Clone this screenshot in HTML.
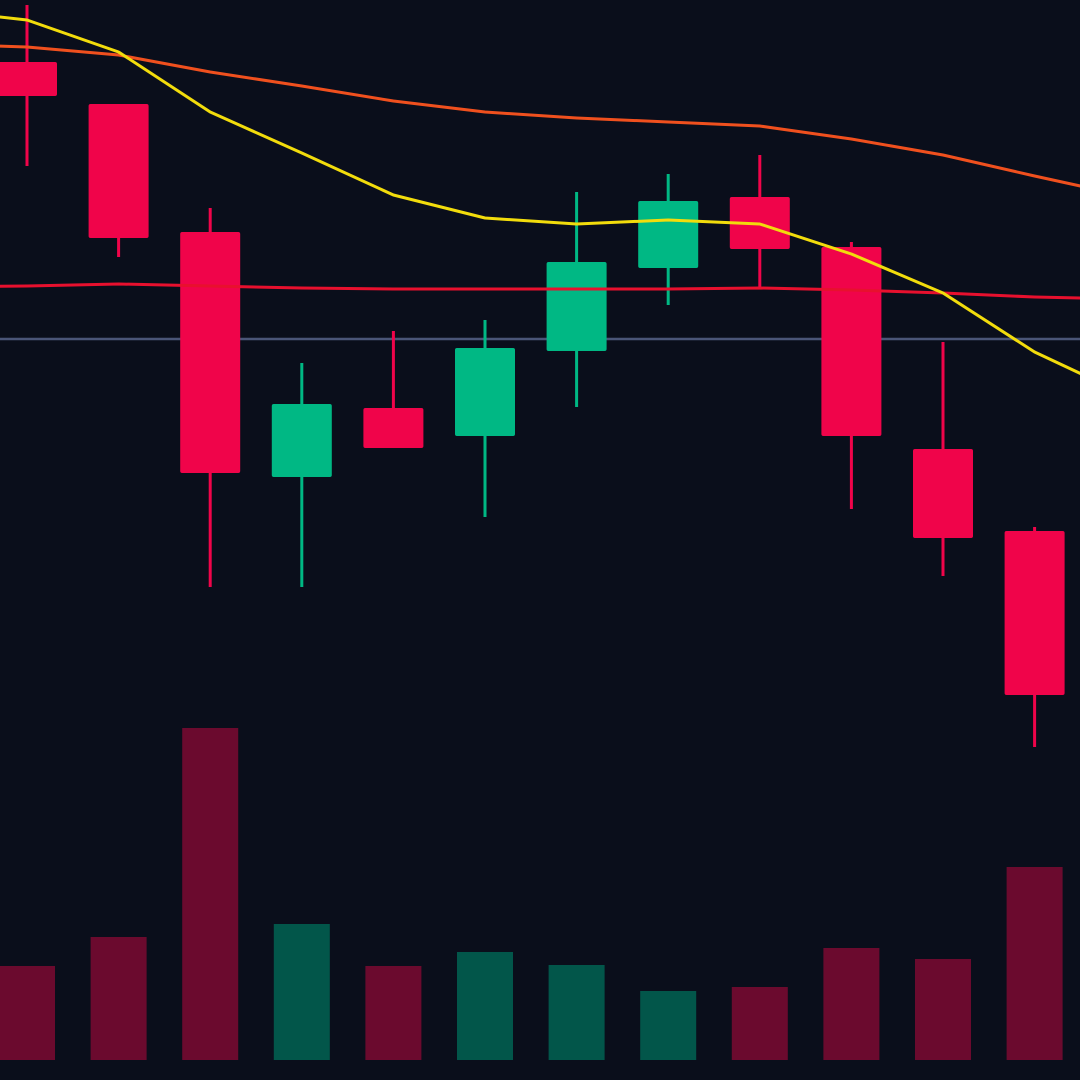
<!DOCTYPE html>
<html><head><meta charset="utf-8"><style>
html,body{margin:0;padding:0;background:#0a0e1b;}
svg{display:block;}
</style></head>
<body>
<svg id="chart" width="1080" height="1080" viewBox="0 0 1080 1080" xmlns="http://www.w3.org/2000/svg">
<rect x="0" y="0" width="1080" height="1080" fill="#0a0e1b"/>
<g id="overlays"></g>
<g id="volumes"></g>
<g id="candles"></g>
<g id="lines"></g>
</svg>
<script>
const opens  = [93.8, 89.6, 76.8, 52.3, 59.2, 56.4, 64.9, 73.2, 80.3, 75.3, 55.1, 46.9];
const highs  = [99.5, 89.6, 79.2, 63.7, 66.9, 68.0, 80.8, 82.6, 84.5, 75.8, 65.8, 47.3];
const lows   = [83.4, 74.3, 41.3, 41.3, 55.2, 48.3, 59.3, 69.5, 71.3, 49.1, 42.4, 25.3];
const closes = [90.4, 76.2, 52.7, 59.6, 55.2, 65.2, 73.8, 79.9, 75.1, 56.4, 46.2, 30.5];
const volumes = [23.5, 30.75, 83, 34, 23.5, 27, 23.75, 17.25, 18.25, 28, 25.25, 48.25];
// moving averages, index -1 .. 12
const maFast = [99.0, 98.0, 94.8, 88.8, 84.7, 80.5, 78.2, 77.6, 78.0, 77.6, 74.6, 70.7, 64.8, 60.5];
const maMid  = [95.6, 95.3, 94.5, 92.8, 91.4, 89.9, 88.8, 88.2, 87.8, 87.4, 86.1, 84.5, 82.4, 80.4];
const maSlow = [71.3, 71.4, 71.6, 71.4, 71.2, 71.1, 71.1, 71.1, 71.1, 71.2, 71.0, 70.7, 70.3, 70.1];
const refLevel = 66.1;

const NS = "http://www.w3.org/2000/svg";
const xOf = i => 27 + i * 91.6;
const yP = p => (100 - p) * 10;
const yV = v => 1060 - v * 4;
const RED = "#f0044a", GREEN = "#00b884", VRED = "#6b0a2e", VGREEN = "#02564a";
function mk(tag, attrs, parent){const e=document.createElementNS(NS,tag);for(const k in attrs)e.setAttribute(k,attrs[k]);parent.appendChild(e);return e;}

const ov = document.getElementById('overlays');
const ref = mk('line',{x1:0,x2:1080,y1:yP(refLevel),y2:yP(refLevel),stroke:"#4a5578","stroke-width":2.5},ov);



const vg = document.getElementById('volumes');
volumes.forEach((v,i)=>{
  const up = closes[i] >= opens[i];
  const r = mk('rect',{x:xOf(i)-28,y:yV(v),width:56,height:1060-yV(v),fill:up?VGREEN:VRED},vg);
  
  
});

const cg = document.getElementById('candles');
opens.forEach((o,i)=>{
  const c = closes[i], up = c >= o, col = up?GREEN:RED, x = xOf(i);
  const g = mk('g',{},cg);
  
  
  const w = mk('rect',{x:x-1.5,y:yP(highs[i]),width:3,height:yP(lows[i])-yP(highs[i]),fill:col},g);
  
  
  const top = yP(Math.max(o,c)), bot = yP(Math.min(o,c));
  const b = mk('rect',{x:x-30,y:top,width:60,height:Math.max(bot-top,1),fill:col,rx:2},g);
  
  
});

const lg = document.getElementById('lines');
function drawLine(arr,color,name){
  const pts = arr.map((p,k)=>xOf(k-1)+','+yP(p)).join(' ');
  const l = mk('polyline',{points:pts,fill:'none',stroke:color,'stroke-width':3,'stroke-linejoin':'round'},lg);
  
  
}
drawLine(maSlow,'#e8102e','ma-slow-line');
drawLine(maMid,'#f0501e','ma-mid-line');
drawLine(maFast,'#f2dc0c','ma-fast-line');
</script>
</body></html>
